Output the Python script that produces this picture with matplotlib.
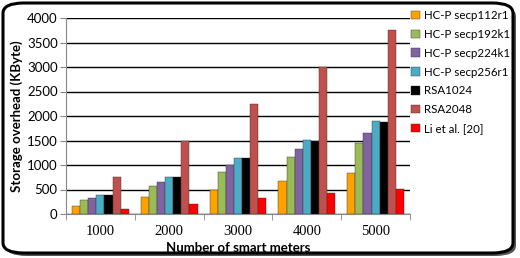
import numpy as np
import matplotlib.pyplot as plt
from matplotlib.patches import FancyBboxPatch

meters = ['1000', '2000', '3000', '4000', '5000']
series = ['HC-P secp112r1', 'HC-P secp192k1', 'HC-P secp224k1', 'HC-P secp256r1',
          'RSA1024', 'RSA2048', 'Li et al. [20]']
secp112r1 = [170, 340, 500, 680, 840]
secp192k1 = [280, 570, 860, 1160, 1440]
secp224k1 = [330, 660, 1000, 1330, 1660]
secp256r1 = [380, 750, 1140, 1520, 1890]
rsa1024 = [380, 760, 1140, 1500, 1870]
rsa2048 = [750, 1500, 2250, 3000, 3760]
li = [100, 200, 320, 420, 520]
values = [secp112r1, secp192k1, secp224k1, secp256r1, rsa1024, rsa2048, li]
colors = ['#FFA200', '#9BBB59', '#8064A2', '#4BACC6', '#000000', '#C0504D', '#FF0000']

fig = plt.figure(figsize=(5.2, 2.58), dpi=100)
W, H = 520, 258

# rounded frame with shadow
shadow = FancyBboxPatch((6 / W, 2 / H), 510 / W, 250 / H, boxstyle='round,pad=0,rounding_size=0.04',
                        transform=fig.transFigure, fc='#555555', ec='none', zorder=0)
frame = FancyBboxPatch((3 / W, 5 / H), 510 / W, 250 / H, boxstyle='round,pad=0,rounding_size=0.04',
                       transform=fig.transFigure, fc='white', ec='black', lw=2.2, zorder=1)
fig.patches.extend([shadow, frame])

ax = fig.add_axes([66 / W, 1 - 214 / H, 344 / W, 196 / H])
ax.set_zorder(2)
ax.patch.set_alpha(0)

x = np.arange(len(meters))
bw = 0.118
for i, (name, vals, c) in enumerate(zip(series, values, colors)):
    ax.bar(x + (i - 3) * bw, vals, width=bw, color=c, edgecolor='#333333', linewidth=0.3,
           label=name, zorder=3)

ax.set_xlim(-0.5, 4.5)
ax.set_ylim(0, 4000)
ax.set_yticks(range(0, 4001, 500))
ax.yaxis.grid(True, color='black', lw=1.0, zorder=0)
ax.set_axisbelow(True)
for s in ['top', 'right']:
    ax.spines[s].set_visible(False)
ax.spines['left'].set_color('#888888')
ax.spines['bottom'].set_color('#888888')
ax.set_xticks(x)
ax.set_xticklabels(meters, fontfamily='Liberation Serif', fontsize=10.5)
ax.set_xticks(np.arange(-0.5, 5, 1), minor=True)
ax.tick_params(axis='x', which='major', length=0, pad=8)
ax.tick_params(axis='x', which='minor', length=4, color='#888888')
ax.tick_params(axis='y', length=4, color='#888888', labelsize=9.5, pad=2)
for lab in ax.get_yticklabels():
    lab.set_fontfamily('Lato')
ax.set_ylabel('Storage overhead (KByte)', fontfamily='Lato', fontweight='bold', fontsize=9.5, labelpad=3)
ax.set_xlabel('Number of smart meters', fontfamily='Lato', fontweight='bold', fontsize=9.5, labelpad=3)

leg = fig.legend(loc='upper left', bbox_to_anchor=(411 / W, 1 - 10 / H), frameon=False,
                 prop={'family': 'Lato', 'size': 8.3}, handlelength=0.75, handleheight=0.75,
                 handletextpad=0.4, labelspacing=0.68, borderpad=0, borderaxespad=0)
leg.set_zorder(5)

fig.savefig('out.png', dpi=100)
